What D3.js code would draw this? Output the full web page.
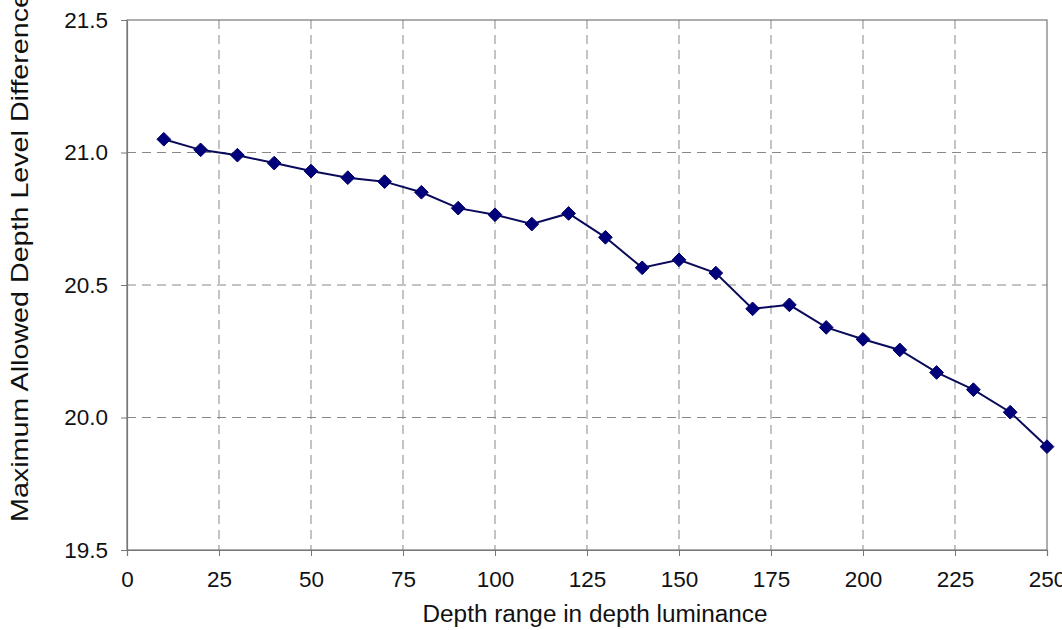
<!DOCTYPE html>
<html>
<head>
<meta charset="utf-8">
<script src="https://cdn.jsdelivr.net/npm/d3@7"></script>
<style>
  body { margin: 0; background: #fff; }
  svg text { font-family: "Liberation Sans", Arial, sans-serif; fill: #111; }
</style>
</head>
<body>
<div id="chart"></div>
<script>
// depth range (x) and max allowed depth level difference (y)
var depthRange = [10, 20, 30, 40, 50, 60, 70, 80, 90, 100, 110, 120, 130,
                  140, 150, 160, 170, 180, 190, 200, 210, 220, 230, 240, 250];
var maxDiff = [21.05, 21.01, 20.99, 20.96, 20.93, 20.905, 20.89, 20.85, 20.79, 20.765,
               20.73, 20.77, 20.68, 20.565, 20.595, 20.545, 20.41, 20.425, 20.34, 20.295,
               20.255, 20.17, 20.105, 20.02, 19.89];
var xTicks = [0, 25, 50, 75, 100, 125, 150, 175, 200, 225, 250];
var yTicks = [19.5, 20.0, 20.5, 21.0, 21.5];

var width = 1062, height = 630;
var margin = { top: 20, right: 15, bottom: 80, left: 127 };

var svg = d3.select("#chart").append("svg")
  .attr("width", width)
  .attr("height", height);

var x = d3.scaleLinear().domain([0, 250]).range([margin.left, width - margin.right]);
var y = d3.scaleLinear().domain([19.5, 21.5]).range([height - margin.bottom, margin.top]);

// grid
var grid = svg.append("g").attr("class", "grid");
grid.selectAll(".vgrid")
  .data(xTicks.slice(1, -1))
  .enter().append("line")
  .attr("x1", function(d) { return x(d); })
  .attr("x2", function(d) { return x(d); })
  .attr("y1", y(21.5))
  .attr("y2", y(19.5))
  .style("stroke", "#888")
  .style("stroke-dasharray", "9,6");
grid.selectAll(".hgrid")
  .data(yTicks.slice(1, -1))
  .enter().append("line")
  .attr("x1", x(0))
  .attr("x2", x(250))
  .attr("y1", function(d) { return y(d); })
  .attr("y2", function(d) { return y(d); })
  .style("stroke", "#888")
  .style("stroke-dasharray", "9,6");

// frame
svg.append("rect")
  .attr("x", x(0))
  .attr("y", y(21.5))
  .attr("width", x(250) - x(0))
  .attr("height", y(19.5) - y(21.5))
  .style("fill", "none")
  .style("stroke", "#777")
  .style("stroke-width", 1.2);

// axes
var xAxis = svg.append("g")
  .attr("transform", "translate(0," + y(19.5) + ")")
  .call(d3.axisBottom(x).tickValues(xTicks).tickSize(6).tickPadding(15));
var yAxis = svg.append("g")
  .attr("transform", "translate(" + x(0) + ",0)")
  .call(d3.axisLeft(y).tickValues(yTicks).tickSize(6).tickPadding(13).tickFormat(d3.format(".1f")));

[xAxis, yAxis].forEach(function(a) {
  a.select(".domain").style("stroke", "#777").style("stroke-width", 1.2);
  a.selectAll(".tick line").style("stroke", "#777");
  a.selectAll(".tick text")
    .style("font-size", "22.5px")
    .style("font-family", "Liberation Sans, Arial, sans-serif")
    .style("fill", "#111");
});

// line + markers
var pts = depthRange.map(function(d, i) { return [d, maxDiff[i]]; });

svg.append("path")
  .datum(pts)
  .attr("d", d3.line().x(function(d) { return x(d[0]); }).y(function(d) { return y(d[1]); }))
  .style("fill", "none")
  .style("stroke", "#0a0a5a")
  .style("stroke-width", 2);

svg.selectAll(".pt")
  .data(pts)
  .enter().append("path")
  .attr("class", "pt")
  .attr("transform", function(d) { return "translate(" + x(d[0]) + "," + y(d[1]) + ")"; })
  .attr("d", d3.symbol().type(d3.symbolDiamond2).size(120))
  .style("fill", "#00007a")
  .style("stroke", "#000066")
  .style("stroke-width", 1);

// axis titles
svg.append("text")
  .attr("x", 595)
  .attr("y", 622)
  .attr("text-anchor", "middle")
  .attr("textLength", 345)
  .attr("lengthAdjust", "spacingAndGlyphs")
  .style("font-size", "23px")
  .text("Depth range in depth luminance");

svg.append("text")
  .attr("transform", "translate(28,257) rotate(-90)")
  .attr("text-anchor", "middle")
  .attr("textLength", 530)
  .attr("lengthAdjust", "spacingAndGlyphs")
  .style("font-size", "24px")
  .text("Maximum Allowed Depth Level Difference");
</script>
</body>
</html>
